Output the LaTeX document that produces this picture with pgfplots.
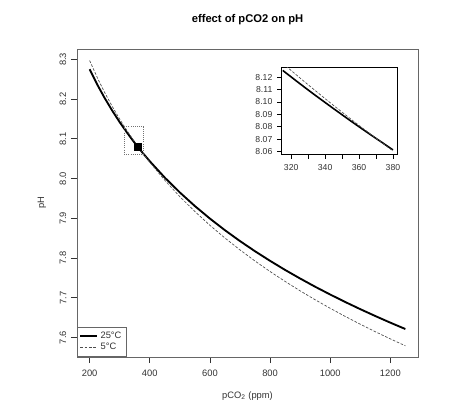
\documentclass[border=0pt]{standalone}
\usepackage{fontspec}
\setmainfont{Liberation Sans}
\usepackage{pgfplots}
\pgfplotsset{compat=1.18}
\usepackage{pgfplotstable}

\pgfplotstableread{
x y
200 8.2750
225 8.2370
250 8.2026
275 8.1711
300 8.1419
325 8.1149
350 8.0896
375 8.0659
400 8.0436
450 8.0023
500 7.9650
550 7.9308
600 7.8993
650 7.8700
700 7.8427
750 7.8171
800 7.7930
850 7.7701
900 7.7485
950 7.7278
1000 7.7082
1050 7.6894
1100 7.6714
1150 7.6541
1200 7.6374
1250 7.6214
}\warm

\pgfplotstableread{
x y
200 8.2970
225 8.2548
250 8.2166
275 8.1817
300 8.1495
325 8.1197
350 8.0918
375 8.0656
400 8.0410
450 7.9956
500 7.9545
550 7.9170
600 7.8824
650 7.8504
700 7.8205
750 7.7925
800 7.7661
850 7.7412
900 7.7175
950 7.6950
1000 7.6736
1050 7.6531
1100 7.6335
1150 7.6146
1200 7.5966
1250 7.5792
}\cold

\pgfplotstableread{
x y
315 8.1255
320 8.1202
325 8.1149
330 8.1097
335 8.1046
340 8.0996
345 8.0946
350 8.0897
355 8.0848
360 8.0800
365 8.0753
370 8.0706
375 8.0660
380 8.0613
}\warmzoom

\pgfplotstableread{
x y
315 8.1313
320 8.1254
325 8.1196
330 8.1139
335 8.1083
340 8.1027
345 8.0972
350 8.0918
355 8.0864
360 8.0811
365 8.0759
370 8.0707
375 8.0656
380 8.0605
}\coldzoom

\begin{document}
\begin{tikzpicture}
\path[use as bounding box, fill=white] (0,0) rectangle (355.5pt,-312.75pt);
\begin{axis}[
  at={(57.75pt,-267.75pt)}, anchor=south west,
  scale only axis, width=255.75pt, height=231pt,
  xmin=158, xmax=1292, ymin=7.551, ymax=8.326,
  axis line style={black!60, line width=0.6pt},
  tick align=outside, xtick pos=left, ytick pos=left,
  major tick length=4.5pt,
  tick style={black!80, line width=0.5pt},
  xtick={200,400,...,1200},
  ytick={7.6,7.7,7.8,7.9,8.0,8.1,8.2,8.3},
  /pgf/number format/assume math mode=true,
  /pgf/number format/1000 sep={},
  yticklabel style={rotate=90, anchor=south, /pgf/number format/.cd, fixed, precision=1, fixed zerofill},
  xticklabel style={yshift=-2pt},
  ticklabel style={font=\fontsize{7}{8}\selectfont, text=black!80},
  title={\bfseries effect of pCO2 on pH},
  title style={at={(axis description cs:0.5,1.068)}, anchor=center, font=\fontsize{8.4}{10}\selectfont},
  xlabel={pCO\textsubscript{2} (ppm)},
  xlabel style={at={(axis description cs:0.5,-0.127)}, anchor=center, font=\fontsize{7}{8}\selectfont, text=black!80},
  ylabel={pH},
  ylabel style={at={(axis description cs:-0.103,0.5)}, anchor=center, font=\fontsize{7}{8}\selectfont, text=black!80},
  legend style={at={(0,0)}, anchor=south west, draw=black!60, line width=0.6pt, font=\fontsize{7}{8}\selectfont, inner sep=1.5pt, row sep=-1.5pt, text=black!80},
  legend cell align=left,
  legend image code/.code={\draw[#1] (0pt,0pt) -- (12.5pt,0pt);},
]
\addplot[black, line width=1.4pt] table[x=x,y=y] {\warm};
\addlegendentry{25°C}
\addplot[black!70, line width=0.5pt, dash pattern=on 2pt off 1.2pt] table[x=x,y=y] {\cold};
\addlegendentry{5°C}
\addplot[black!55, line width=0.6pt, densely dotted, forget plot] coordinates {(315,8.06) (380,8.06) (380,8.13) (315,8.13) (315,8.06)};
\addplot[only marks, mark=square*, mark size=2.3pt, black, forget plot] coordinates {(360,8.08)};
\end{axis}
\begin{axis}[
  at={(211.3pt,-115.5pt)}, anchor=south west,
  scale only axis, width=86.7pt, height=65pt,
  xmin=314.4, xmax=382.6, ymin=8.058, ymax=8.128,
  axis background/.style={fill=white},
  axis line style={black, line width=0.6pt},
  tick align=outside, xtick pos=left, ytick pos=left,
  major tick length=3.5pt,
  tick style={black, line width=0.5pt},
  xtick={320,330,...,380},
  xticklabels={320,,340,,360,,380},
  ytick={8.06,8.07,8.08,8.09,8.10,8.11,8.12},
  /pgf/number format/assume math mode=true,
  yticklabel style={/pgf/number format/.cd, fixed, precision=2, fixed zerofill},
  ticklabel style={font=\fontsize{6.5}{7.5}\selectfont, text=black!80},
  xticklabel style={yshift=-1pt},
]
\addplot[black, line width=1.2pt] table[x=x,y=y] {\warmzoom};
\addplot[black!70, line width=0.5pt, dash pattern=on 2pt off 1.2pt] table[x=x,y=y] {\coldzoom};
\end{axis}
\end{tikzpicture}
\end{document}
